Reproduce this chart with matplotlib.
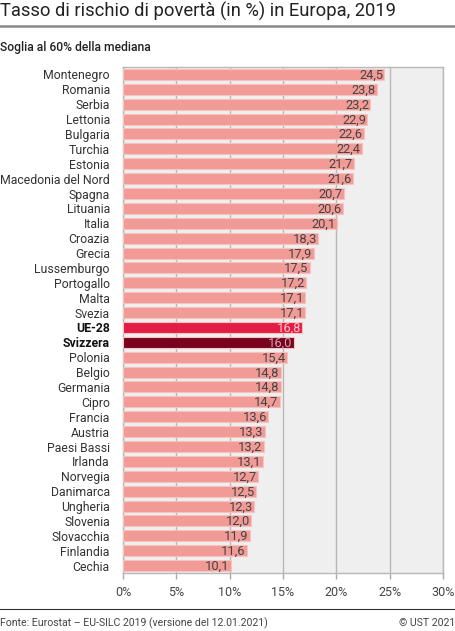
import matplotlib
matplotlib.use("Agg")
import matplotlib.pyplot as plt
from matplotlib.lines import Line2D

plt.rcParams['font.family'] = ['Roboto', 'DejaVu Sans']

countries = ["Montenegro", "Romania", "Serbia", "Lettonia", "Bulgaria", "Turchia", "Estonia",
             "Macedonia del Nord", "Spagna", "Lituania", "Italia", "Croazia", "Grecia",
             "Lussemburgo", "Portogallo", "Malta", "Svezia", "UE-28", "Svizzera", "Polonia",
             "Belgio", "Germania", "Cipro", "Francia", "Austria", "Paesi Bassi", "Irlanda",
             "Norvegia", "Danimarca", "Ungheria", "Slovenia", "Slovacchia", "Finlandia", "Cechia"]
values = [24.5, 23.8, 23.2, 22.9, 22.6, 22.4, 21.7, 21.6, 20.7, 20.6, 20.1, 18.3, 17.9,
          17.5, 17.2, 17.1, 17.1, 16.8, 16.0, 15.4, 14.8, 14.8, 14.7, 13.6, 13.3, 13.2, 13.1,
          12.7, 12.5, 12.3, 12.0, 11.9, 11.6, 10.1]
xticks = [0, 5, 10, 15, 20, 25, 30]
xticklabels = ["0%", "5%", "10%", "15%", "20%", "25%", "30%"]

W, H = 455, 631
fig = plt.figure(figsize=(W/100, H/100), dpi=100)
ax = fig.add_axes([123/W, 1-573/H, 320/W, (573-67)/H])
ax.set_facecolor("#EFEFEF")

n = len(countries)
ypos = list(range(n))
colors = []
tcolors = []
for c in countries:
    if c == "UE-28":
        colors.append("#E31D45"); tcolors.append("#F7C6CC")
    elif c == "Svizzera":
        colors.append("#7A0020"); tcolors.append("#C8A8AE")
    else:
        colors.append("#F29A95"); tcolors.append("#444444")

ax.barh(ypos, values, height=0.74, color=colors, edgecolor="#F7C3C0", linewidth=0.8, zorder=3)
for y, v, tc in zip(ypos, values, tcolors):
    ax.text(v - 0.12, y + 0.05, f"{v:.1f}".replace(".", ","), ha="right", va="center",
            fontsize=9.3, color=tc, zorder=4)

ax.set_xlim(0, 30)
ax.set_ylim(n - 0.5, -0.5)
ax.set_xticks(xticks)
ax.set_xticklabels(xticklabels, fontsize=9, color="#444444")
ax.set_yticks(ypos)
ax.set_yticklabels(countries, fontsize=8.8, color="#333333")
for lbl in ax.get_yticklabels():
    if lbl.get_text() in ("UE-28", "Svizzera"):
        lbl.set_fontweight("bold")
        lbl.set_color("#111111")
ax.tick_params(axis="y", length=0, pad=9.5)
ax.tick_params(axis="x", length=4, width=1, color="#AAAAAA", pad=5)
ax.grid(axis="x", color="#B8B8B8", linewidth=1, zorder=1)
for s in ["top", "right", "left", "bottom"]:
    ax.spines[s].set_color("#B8B8B8")
    ax.spines[s].set_linewidth(1)

fig.text(0.0, 1-11/H, "Tasso di rischio di povertà (in %) in Europa, 2019", fontsize=13.2,
         va="center", ha="left", color="#222222")
fig.add_artist(Line2D([0, 1], [1-25.5/H, 1-25.5/H], color="#888888", linewidth=1.8))
fig.text(0.0, 1-48/H, "Soglia al 60% della mediana", fontsize=8.7, fontweight="medium",
         va="center", ha="left", color="#222222")
fig.add_artist(Line2D([0, 1], [1-609/H, 1-609/H], color="#333333", linewidth=0.8))
fig.text(0.0, 1-623/H, "Fonte: Eurostat – EU-SILC 2019 (versione del 12.01.2021)", fontsize=7.6,
         va="center", ha="left", color="#444444")
fig.text(1.0, 1-623/H, "© UST 2021", fontsize=7.6, va="center", ha="right", color="#444444")

fig.savefig("out.png", dpi=100, facecolor="white")
